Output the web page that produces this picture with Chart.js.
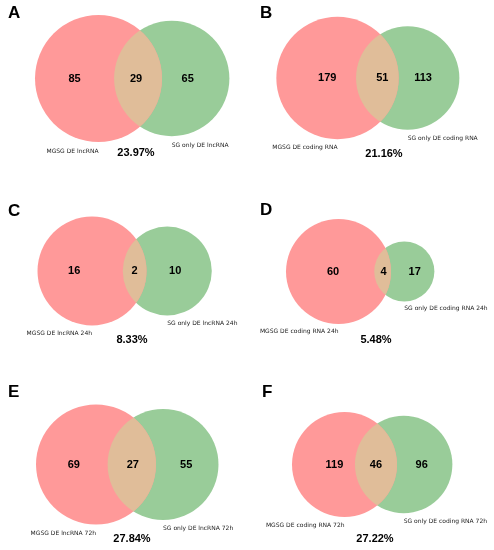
<!DOCTYPE html>
<html><head><meta charset="utf-8">
<script src="https://cdn.jsdelivr.net/npm/chart.js@4/dist/chart.umd.min.js"></script>
<style>
html,body{margin:0;padding:0;background:#fff;}
#wrap{position:relative;width:494px;height:550px;overflow:hidden;background:#fff;}
canvas{position:absolute;}
</style></head><body><div id="wrap"></div>
<script>
// ---- data ----
const panelLetters = ['A', 'B', 'C', 'D', 'E', 'F'];
const mgsgOnly = [85, 179, 16, 60, 69, 119];
const shared = [29, 51, 2, 4, 27, 46];
const sgOnly = [65, 113, 10, 17, 55, 96];
const mgsgLabels = ['MGSG DE lncRNA', 'MGSG DE coding RNA', 'MGSG DE lncRNA 24h',
  'MGSG DE coding RNA 24h', 'MGSG DE lncRNA 72h', 'MGSG DE coding RNA 72h'];
const sgLabels = ['SG only DE lncRNA', 'SG only DE coding RNA', 'SG only DE lncRNA 24h',
  'SG only DE coding RNA 24h', 'SG only DE lncRNA 72h', 'SG only DE coding RNA 72h'];
const percentLabels = ['23.97%', '21.16%', '8.33%', '5.48%', '27.84%', '27.22%'];

// ---- layout (pixels inside each panel) ----
const layout = [
  {left: 0,   top: 0,   w: 247, h: 180, cx: 98.5, cy: 78.5, scale: 10.54, pct: [136, 153],   letter: [8, 18],   nudge: [0, -2, -8]},
  {left: 247, top: 0,   w: 247, h: 180, cx: 90.5, cy: 78,   scale: 7.15,  pct: [137, 154],   letter: [13, 18],  nudge: [11, 5, -6]},
  {left: 0,   top: 180, w: 247, h: 185, cx: 92,   cy: 91,   scale: 22.77, pct: [132, 160],   letter: [8, 35.5], nudge: [-6, 0, -4]},
  {left: 247, top: 180, w: 247, h: 185, cx: 91.5, cy: 91.5, scale: 11.63, pct: [129, 159.5], letter: [13, 35],  nudge: [3, 1, 2]},
  {left: 0,   top: 365, w: 247, h: 185, cx: 96,   cy: 99.5, scale: 10.85, pct: [132, 173.5], letter: [8, 31.7], nudge: [2, 1, -1]},
  {left: 247, top: 365, w: 247, h: 185, cx: 97.5, cy: 99.5, scale: 7.244, pct: [128, 173.5], letter: [15, 32],  nudge: [11, 0, -3]}
];
const RED = '#ff9999', GREEN = '#99cc99', LENS = '#e0bd99';

function lensArea(r1, r2, d) {
  if (d >= r1 + r2) return 0;
  if (d <= Math.abs(r1 - r2)) return Math.PI * Math.min(r1, r2) ** 2;
  const a = r1 * r1 * Math.acos((d * d + r1 * r1 - r2 * r2) / (2 * d * r1));
  const b = r2 * r2 * Math.acos((d * d + r2 * r2 - r1 * r1) / (2 * d * r2));
  const c = 0.5 * Math.sqrt((-d + r1 + r2) * (d + r1 - r2) * (d - r1 + r2) * (d + r1 + r2));
  return a + b - c;
}
function solveDist(r1, r2, target) {
  let lo = Math.abs(r1 - r2), hi = r1 + r2;
  for (let i = 0; i < 100; i++) {
    const m = (lo + hi) / 2;
    if (lensArea(r1, r2, m) > target) lo = m; else hi = m;
  }
  return (lo + hi) / 2;
}

const wrap = document.getElementById('wrap');

panelLetters.forEach((letter, i) => {
  const L = layout[i];
  const sizeA = mgsgOnly[i] + shared[i];
  const sizeB = sgOnly[i] + shared[i];
  const rA = Math.sqrt(sizeA / Math.PI);
  const rB = Math.sqrt(sizeB / Math.PI);
  const d = solveDist(rA, rB, shared[i]);

  const cv = document.createElement('canvas');
  cv.width = L.w; cv.height = L.h;
  cv.style.left = L.left + 'px'; cv.style.top = L.top + 'px';
  cv.style.width = L.w + 'px'; cv.style.height = L.h + 'px';
  wrap.appendChild(cv);

  const plugin = {
    id: 'venn' + i,
    afterDatasetsDraw(chart) {
      const ctx = chart.ctx;
      const e0 = chart.getDatasetMeta(0).data[0];
      const e1 = chart.getDatasetMeta(1).data[0];
      const r0 = e0.options.radius, r1 = e1.options.radius;
      if (!(r0 > 0) || !(r1 > 0)) return;
      // intersection region
      ctx.save();
      ctx.beginPath(); ctx.arc(e0.x, e0.y, r0, 0, Math.PI * 2); ctx.clip();
      ctx.beginPath(); ctx.arc(e1.x, e1.y, r1, 0, Math.PI * 2);
      ctx.fillStyle = LENS; ctx.fill();
      ctx.restore();

      ctx.save();
      // region numbers
      ctx.fillStyle = '#000';
      ctx.font = 'bold 11px "Liberation Sans", Arial, sans-serif';
      ctx.textAlign = 'center'; ctx.textBaseline = 'middle';
      const aL = e0.x - r0, aR = e0.x + r0, bL = e1.x - r1, bR = e1.x + r1;
      ctx.fillText(String(mgsgOnly[i]), (aL + bL) / 2 + L.nudge[0], e0.y);
      ctx.fillText(String(shared[i]), (bL + aR) / 2 + L.nudge[1], e0.y);
      ctx.fillText(String(sgOnly[i]), (aR + bR) / 2 + L.nudge[2], e1.y);
      // set labels
      const pad = 0.1 * (r0 + r1) / 2;
      ctx.font = '6px "DejaVu Sans", sans-serif';
      ctx.fillStyle = '#222';
      ctx.textBaseline = 'top';
      ctx.textAlign = 'right';
      ctx.fillText(mgsgLabels[i], e0.x, e0.y + r0 + pad);
      ctx.textAlign = 'left';
      ctx.fillText(sgLabels[i], e1.x, e1.y + r1 + pad);
      ctx.restore();
    },
    afterDraw(chart) {
      const ctx = chart.ctx;
      ctx.save();
      ctx.fillStyle = '#000';
      ctx.font = 'bold 11px "Liberation Sans", Arial, sans-serif';
      ctx.textAlign = 'center'; ctx.textBaseline = 'middle';
      ctx.fillText(percentLabels[i], L.pct[0], L.pct[1]);
      ctx.font = 'bold 17px "Liberation Sans", Arial, sans-serif';
      ctx.textAlign = 'left'; ctx.textBaseline = 'alphabetic';
      ctx.fillText(letter, L.letter[0], L.letter[1]);
      ctx.restore();
    }
  };

  const chart = new Chart(cv, {
    type: 'bubble',
    data: {
      datasets: [
        {label: mgsgLabels[i], data: [{x: 0, y: 0, r: 0}], backgroundColor: RED, borderWidth: 0, clip: false},
        {label: sgLabels[i], data: [{x: d, y: 0, r: 0}], backgroundColor: GREEN, borderWidth: 0, clip: false}
      ]
    },
    options: {
      responsive: false, animation: false, events: [],
      layout: {padding: 0, autoPadding: false},
      scales: {
        x: {type: 'linear', display: false, bounds: 'data', min: -L.cx / L.scale, max: (L.w - L.cx) / L.scale},
        y: {type: 'linear', display: false, bounds: 'data', min: -(L.h - L.cy) / L.scale, max: L.cy / L.scale}
      },
      plugins: {legend: {display: false}, tooltip: {enabled: false}}
    },
    plugins: [plugin]
  });
  // bubble radius in pixels, derived from the x scale's unit length
  const sx = chart.scales.x;
  const unitPx = Math.abs(sx.getPixelForValue(1) - sx.getPixelForValue(0));
  chart.data.datasets[0].data[0].r = rA * unitPx;
  chart.data.datasets[1].data[0].r = rB * unitPx;
  chart.update('none');
});
</script>
</body></html>
